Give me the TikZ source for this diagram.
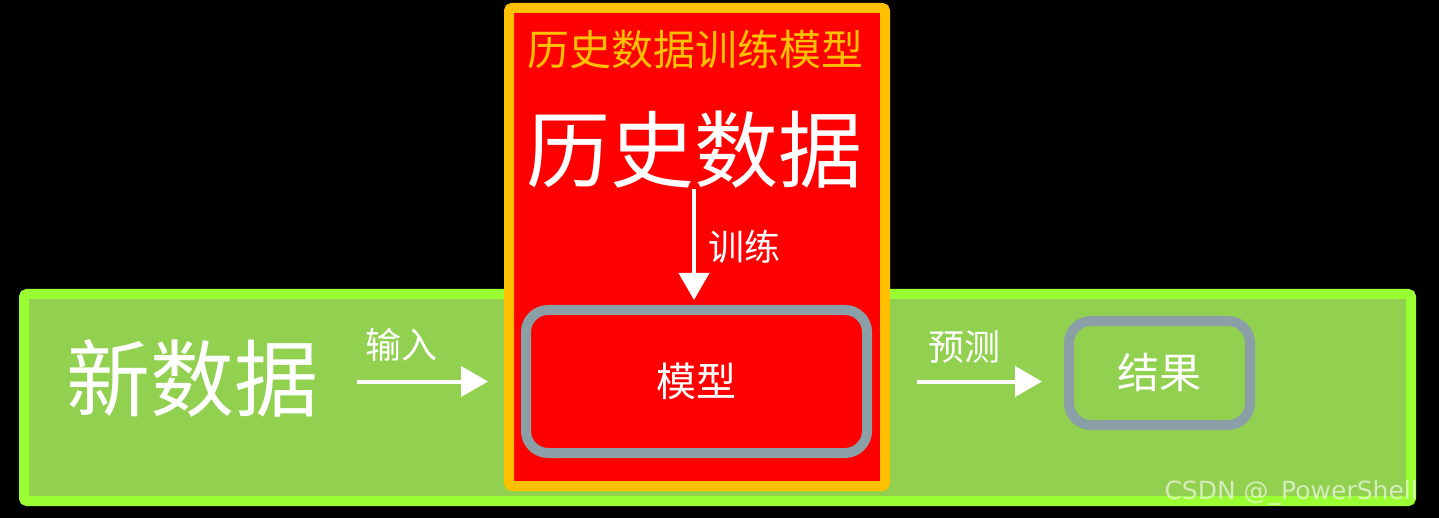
\documentclass[tikz,border=0pt]{standalone}
\usepackage{fontspec}
\newfontfamily\cjk{Noto Sans CJK SC}
\newfontfamily\markfont{DejaVu Sans}
\usetikzlibrary{arrows.meta,shadows}
\definecolor{appgreen}{HTML}{92D050}
\definecolor{limeline}{HTML}{99FF33}
\definecolor{trainred}{HTML}{FF0000}
\definecolor{trainorange}{HTML}{FFC000}
\definecolor{boxgray}{HTML}{8BA0A6}
\begin{document}
\begin{tikzpicture}
    [x=1pt,y=-1pt,
     every node/.style={font=\cjk,text=white,inner sep=0pt},
     panel/.style={draw,line width=10pt,rounded corners=3pt},
     stepbox/.style={draw=boxgray,line width=10pt,rounded corners=22pt},
     flow/.style={draw=white,line width=4pt,-{Triangle[width=30pt,length=27pt]}},
     tag/.style={font=\cjk\fontsize{36}{36}\selectfont}]
    \fill[black] (0,0) rectangle (1439,518);
    \node[panel,draw=limeline,fill=appgreen,minimum width=1387pt,minimum height=207pt] (apply) at (717.5,397.5) {};
    \node[panel,draw=trainorange,fill=trainred,minimum width=376pt,minimum height=478pt,
          drop shadow={opacity=0.25}] (train) at (697,247) {};
    \node[text=trainorange,font=\cjk\fontsize{42}{42}\selectfont] (title) at (695,50) {历史数据训练模型};
    \node[font=\cjk\fontsize{84}{84}\selectfont] (history) at (694,150) {历史数据};
    \node[stepbox,fill=trainred,minimum width=341pt,minimum height=143pt,font=\cjk\fontsize{40}{40}\selectfont] (model) at (696.5,381.5) {模型};
    \node[font=\cjk\fontsize{84}{84}\selectfont] (newdata) at (192,379) {新数据};
    \node[stepbox,fill=appgreen,minimum width=181pt,minimum height=104pt,font=\cjk\fontsize{42}{42}\selectfont] (result) at (1159.5,373) {结果};
    \node[text=white,opacity=0.6,font=\markfont\fontsize{25}{25}\selectfont,anchor=east] (mark) at (1418,493) {CSDN @\_PowerShell};
    % connectors
    \draw[flow,shorten >=5pt] (history.south) -- (history.south |- model.north)
        node[tag,midway,right=12pt] {训练};
    \draw[flow,shorten <=39pt,shorten >=33pt] (newdata.east |- model.west) -- (model.west)
        node[tag,pos=0.41,above=18pt] {输入};
    \draw[flow,shorten <=45pt,shorten >=22pt] (model.east) -- (model.east -| result.west)
        node[tag,pos=0.48,above=16pt] {预测};
  \end{tikzpicture}
\end{document}
